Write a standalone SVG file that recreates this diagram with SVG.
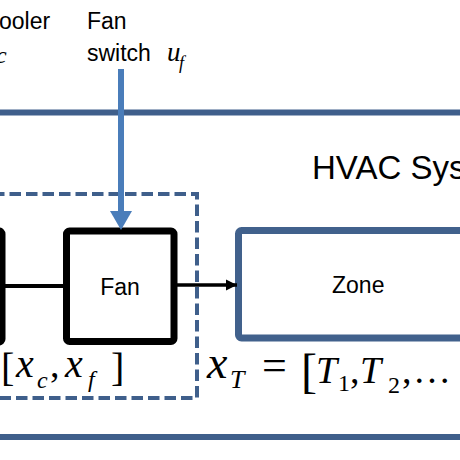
<svg xmlns="http://www.w3.org/2000/svg" width="460" height="460" viewBox="0 0 460 460">
<defs>
<style>
.lbl{font-family:"Liberation Sans","Open Sans",sans-serif;fill:#000}
.math{font-family:"Liberation Serif","Times New Roman",serif;font-style:italic;fill:#000}
.up{font-family:"Liberation Serif","Times New Roman",serif;font-style:normal;fill:#000}
.blk{fill:#fff;stroke:#000;stroke-width:7}
.sys{stroke:#3F5F8B;stroke-width:6;fill:none}
</style>
<marker id="ah" viewBox="0 0 10 10" refX="10" refY="5" markerWidth="3.2" markerHeight="3.2" orient="auto" markerUnits="strokeWidth">
<path d="M0,0 L10,5 L0,10 z" fill="#000"/>
</marker>
</defs>
<rect width="460" height="460" fill="#fff"/>
<g id="hvac-system">
<line class="sys" x1="0" y1="112.5" x2="460" y2="112.5"/>
<line class="sys" x1="0" y1="437" x2="460" y2="437"/>
<text class="lbl" x="312" y="179" font-size="33">HVAC Sys</text>
</g>
<g id="dashed-group">
<rect x="-40" y="194" width="237" height="204" fill="none" stroke="#3F5F8B" stroke-width="4" stroke-dasharray="11.5,5"/>
<text class="up" x="1" y="381" font-size="40">[</text>
<text class="math" x="16" y="377" font-size="40">x</text>
<text class="math" x="37" y="388" font-size="24">c</text>
<text class="up" x="50" y="377" font-size="38">,</text>
<text class="math" x="65" y="377" font-size="40">x</text>
<text class="math" x="88" y="387" font-size="24">f</text>
<text class="up" x="111" y="381" font-size="40">]</text>
</g>
<g id="cooler">
<rect class="blk" x="-100" y="231" width="102" height="111" rx="3"/>
<text class="lbl" x="-1" y="29" font-size="23">ooler</text>
<text class="math" x="-4" y="63" font-size="24">c</text>
</g>
<g id="fan">
<rect class="blk" x="66.5" y="231" width="107.5" height="110.5" rx="3"/>
<text class="lbl" x="120" y="295" font-size="23" text-anchor="middle">Fan</text>
</g>
<g id="zone">
<rect x="238.5" y="230.5" width="300" height="107.5" rx="3" fill="#fff" stroke="#41618C" stroke-width="7"/>
<text class="lbl" x="332" y="293" font-size="23">Zone</text>
<text class="math" x="207" y="378" font-size="46">x</text>
<text class="math" x="230" y="388" font-size="26">T</text>
<text class="up" x="262" y="380" font-size="44">=</text>
<text class="up" x="301" y="387" font-size="48">[</text>
<text class="math" x="316" y="383" font-size="38">T</text>
<text class="up" x="338" y="391" font-size="24">1</text>
<text class="up" x="350" y="383" font-size="38">,</text>
<text class="math" x="360" y="383" font-size="38">T</text>
<text class="up" x="388" y="393" font-size="24">2</text>
<text class="up" x="402" y="383" font-size="38">,</text>
<text class="up" x="413" y="383" font-size="38">…</text>
</g>
<g id="fan-switch">
<text class="lbl" x="87" y="29" font-size="23">Fan</text>
<text class="lbl" x="87" y="61" font-size="23">switch</text>
<text class="math" x="167" y="61" font-size="27">u</text>
<text class="math" x="179" y="69" font-size="18">f</text>
</g>
<g id="connectors">
<line x1="5" y1="286" x2="63" y2="286" stroke="#000" stroke-width="4"/>
<line x1="177" y1="285" x2="237" y2="285" stroke="#000" stroke-width="3.5" marker-end="url(#ah)"/>
<line x1="121" y1="69" x2="121" y2="213" stroke="#4A7DBA" stroke-width="6"/>
<polygon points="110,211 132,211 121,230" fill="#4A7DBA"/>
</g>
</svg>
